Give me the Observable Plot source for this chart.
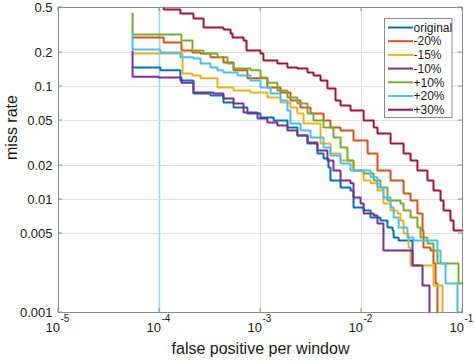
<!DOCTYPE html>
<html><head><meta charset="utf-8">
<script src="https://cdn.jsdelivr.net/npm/d3@7"></script>
<script src="https://cdn.jsdelivr.net/npm/@observablehq/plot@0.6"></script>
<style>body{margin:0;background:#fff;} #chart{width:474px;height:364px;}</style>
</head><body><div id="chart"></div>
<script>
const seriesNames = ["original","-20%","-15%","-10%","+10%","+20%","+30%"];
const seriesColors = ["#0072BD","#D95319","#EDB120","#7E2F8E","#77AC30","#4DBEEE","#A2142F"];
const xTicks = [1e-5,1e-4,1e-3,1e-2,1e-1];
const xTickExponents = ["-5","-4","-3","-2","-1"];
const yTicks = [0.001,0.005,0.01,0.02,0.05,0.1,0.2,0.5];
const yTickLabels = ["0.001","0.005","0.01","0.02","0.05","0.1","0.2","0.5"];
const xGrid = [1e-3,1e-2];
const yGrid = [0.005,0.01,0.02,0.05,0.1,0.2];
const markerFp = [1e-4];

// [false positive per window, miss rate]
const original = [[5.41e-5,0.147],[1.02e-4,0.139],[1.61e-4,0.113],[2.17e-4,0.0867],[3.20e-4,0.0832],[4.30e-4,0.0722],[5.41e-4,0.0652],[7.43e-4,0.0577],[1.00e-3,0.0532],[1.35e-3,0.0500],[1.85e-3,0.0434],[2.32e-3,0.0368],[2.92e-3,0.0313],[3.66e-3,0.0255],[4.21e-3,0.0231],[4.71e-3,0.0192],[4.93e-3,0.0147],[6.20e-3,0.0128],[7.78e-3,0.0120],[8.34e-3,0.00849],[1.05e-2,0.0080],[1.23e-2,0.00693],[1.54e-2,0.00652],[1.81e-2,0.00565],[2.03e-2,0.00532],[2.08e-2,0.00461],[2.33e-2,0.00434],[3.20e-2,0.00261],[3.66e-2,0.00261]];
const minus20 = [[5.41e-5,0.271],[1.10e-4,0.245],[1.65e-4,0.208],[2.12e-4,0.200],[2.55e-4,0.196],[3.20e-4,0.181],[4.30e-4,0.163],[5.41e-4,0.139],[7.43e-4,0.118],[1.17e-3,0.098],[1.58e-3,0.0885],[1.98e-3,0.0752],[2.49e-3,0.0652],[3.13e-3,0.0577],[4.21e-3,0.0500],[4.93e-3,0.0434],[6.20e-3,0.0408],[8.34e-3,0.0333],[1.15e-2,0.0255],[1.44e-2,0.0181],[1.94e-2,0.0147],[2.61e-2,0.0113],[3.06e-2,0.0098],[3.58e-2,0.00752],[4.02e-2,0.00532],[4.11e-2,0.00376],[4.82e-2,0.00354],[5.16e-2,0.00272],[5.41e-2,0.00181],[5.65e-2,0.001]];
const minus15 = [[5.41e-5,0.196],[1.69e-4,0.130],[2.12e-4,0.125],[2.55e-4,0.118],[3.75e-4,0.098],[5.41e-4,0.0922],[7.96e-4,0.0885],[1.17e-3,0.0800],[1.58e-3,0.0722],[1.98e-3,0.0652],[2.32e-3,0.0577],[2.67e-3,0.0471],[3.93e-3,0.0313],[4.93e-3,0.0255],[6.20e-3,0.0221],[8.34e-3,0.0181],[1.05e-2,0.0147],[1.23e-2,0.0139],[1.44e-2,0.0120],[1.65e-2,0.00922],[1.94e-2,0.0080],[2.27e-2,0.00752],[2.43e-2,0.00652],[2.61e-2,0.0050],[2.92e-2,0.00376],[3.06e-2,0.00261],[5.16e-2,0.00173],[6.34e-2,0.001]];
const minus10 = [[5.41e-5,0.204],[5.41e-5,0.122],[9.8e-5,0.120],[1.65e-4,0.108],[2.17e-4,0.0885],[3.43e-4,0.0867],[4.30e-4,0.0783],[5.41e-4,0.0708],[6.79e-4,0.0588],[9.34e-4,0.0521],[1.17e-3,0.0480],[1.47e-3,0.0452],[1.85e-3,0.0408],[2.32e-3,0.0368],[2.92e-3,0.0319],[3.66e-3,0.0272],[4.60e-3,0.0221],[5.28e-3,0.0181],[6.20e-3,0.0147],[7.78e-3,0.0139],[8.34e-3,0.0104],[9.78e-3,0.00922],[1.05e-2,0.00752],[1.32e-2,0.00722],[1.44e-2,0.00613],[1.65e-2,0.00354],[3.20e-2,0.00261],[4.02e-2,0.00173],[4.71e-2,0.001]];
const plus10 = [[5.41e-5,0.443],[5.41e-5,0.288],[1.65e-4,0.255],[2.12e-4,0.208],[2.73e-4,0.196],[3.75e-4,0.181],[4.71e-4,0.160],[5.41e-4,0.144],[7.96e-4,0.139],[1.00e-3,0.120],[1.17e-3,0.108],[1.47e-3,0.0922],[1.85e-3,0.0800],[2.32e-3,0.0708],[2.92e-3,0.0577],[3.35e-3,0.0500],[4.21e-3,0.0434],[5.28e-3,0.0354],[6.20e-3,0.0289],[7.27e-3,0.0221],[8.34e-3,0.0181],[1.05e-2,0.0170],[1.32e-2,0.0147],[1.54e-2,0.0128],[1.81e-2,0.0098],[2.43e-2,0.00922],[2.61e-2,0.0080],[3.06e-2,0.00693],[3.58e-2,0.00565],[3.84e-2,0.00461],[4.50e-2,0.00408],[5.16e-2,0.00354],[5.65e-2,0.00272],[9.13e-2,0.00181],[0.1,0.00181]];
const plus20 = [[5.41e-5,0.294],[5.41e-5,0.212],[1.02e-4,0.200],[1.61e-4,0.181],[2.17e-4,0.177],[2.55e-4,0.160],[3.20e-4,0.147],[3.75e-4,0.139],[4.30e-4,0.133],[5.92e-4,0.125],[7.96e-4,0.113],[1.00e-3,0.098],[1.26e-3,0.0867],[1.58e-3,0.0752],[1.85e-3,0.0613],[1.98e-3,0.0471],[2.49e-3,0.0408],[3.13e-3,0.0354],[4.21e-3,0.0289],[4.93e-3,0.0245],[6.20e-3,0.0208],[7.78e-3,0.0181],[1.23e-2,0.0157],[1.44e-2,0.0128],[1.65e-2,0.0104],[1.94e-2,0.00849],[2.08e-2,0.00693],[2.33e-2,0.00565],[2.85e-2,0.00461],[3.27e-2,0.00434],[5.65e-2,0.00354],[6.06e-2,0.00272],[6.79e-2,0.00181],[8.92e-2,0.001]];
const plus30 = [[1.10e-4,0.5],[1.10e-4,0.480],[1.61e-4,0.443],[2.17e-4,0.400],[2.73e-4,0.333],[4.30e-4,0.319],[5.05e-4,0.294],[5.28e-4,0.271],[6.79e-4,0.255],[7.27e-4,0.208],[1.00e-3,0.196],[1.07e-3,0.170],[1.47e-3,0.160],[1.85e-3,0.147],[2.32e-3,0.144],[2.92e-3,0.133],[3.35e-3,0.125],[3.93e-3,0.113],[4.60e-3,0.096],[5.53e-3,0.0752],[6.20e-3,0.0679],[7.78e-3,0.0613],[1.05e-2,0.0500],[1.32e-2,0.0434],[1.44e-2,0.0384],[1.94e-2,0.0313],[2.61e-2,0.0255],[3.06e-2,0.0221],[3.58e-2,0.0181],[4.50e-2,0.0147],[5.16e-2,0.0120],[6.06e-2,0.0098],[6.49e-2,0.0080],[7.60e-2,0.00652],[8.15e-2,0.00532],[0.1,0.00532]];

const seriesData = [original, minus20, minus15, minus10, plus10, plus20, plus30];
const rows = seriesData.flatMap((pts, i) => pts.map(([fp, miss]) => ({series: seriesNames[i], fp, miss})));

const textColor = "#1a1a1a";
const chart = Plot.plot({
  width: 474, height: 364,
  marginLeft: 58, marginRight: 12, marginTop: 7, marginBottom: 52,
  style: {fontFamily: "'Liberation Sans', Arial, sans-serif", background: "#fff", overflow: "visible"},
  x: {type: "log", domain: [1e-5, 1e-1], axis: null},
  y: {type: "log", domain: [0.001, 0.5], axis: null},
  color: {domain: seriesNames, range: seriesColors},
  marks: [
    Plot.ruleX(xGrid, {x: d => d, stroke: "#dfdfdf", strokeWidth: 1}),
    Plot.ruleY(yGrid, {y: d => d, stroke: "#dfdfdf", strokeWidth: 1}),
    Plot.ruleX(markerFp, {x: d => d, stroke: "#9ad4ef", strokeWidth: 1.6}),
    Plot.line(rows, {x: "fp", y: "miss", z: "series", stroke: "series", curve: "step-after", strokeWidth: 2, strokeLinejoin: "miter"}),
    Plot.frame({stroke: "#8a8a8a", strokeWidth: 1}),
    Plot.text(yTicks, {y: d => d, text: d => yTickLabels[yTicks.indexOf(d)], frameAnchor: "left", dx: -6, textAnchor: "end", fontSize: 13, fill: textColor}),
    Plot.text(xTicks, {x: d => d, text: () => "10", frameAnchor: "bottom", dy: 19, dx: 1.5, textAnchor: "end", fontSize: 13, fill: textColor}),
    Plot.text(xTicks, {x: d => d, text: d => xTickExponents[xTicks.indexOf(d)], frameAnchor: "bottom", dy: 9.5, dx: 2, textAnchor: "start", fontSize: 10, fill: textColor}),
    Plot.text(["false positive per window"], {frameAnchor: "bottom", dy: 41, fontSize: 16, fill: textColor}),
    Plot.text(["miss rate"], {frameAnchor: "left", dx: -47, rotate: -90, fontSize: 16, fill: textColor})
  ]
});
document.getElementById("chart").appendChild(chart);

// inward tick marks on all four sides, positioned through Plot's scales
const sx = chart.scale("x"), sy = chart.scale("y");
const fx = sx.apply ? v => sx.apply(v) : d3.scaleLog(sx.domain, sx.range);
const fy = sy.apply ? v => sy.apply(v) : d3.scaleLog(sy.domain, sy.range);
const svg = d3.select(chart);
const L = 58, R = 474 - 12, T = 7, B = 364 - 52, tk = 4;
const g = svg.append("g").attr("stroke", "#8a8a8a").attr("stroke-width", 1);
xTicks.forEach(v => {
  const x = fx(v);
  g.append("line").attr("x1", x).attr("x2", x).attr("y1", B).attr("y2", B - tk);
  g.append("line").attr("x1", x).attr("x2", x).attr("y1", T).attr("y2", T + tk);
});
yTicks.forEach(v => {
  const y = fy(v);
  g.append("line").attr("x1", L).attr("x2", L + tk).attr("y1", y).attr("y2", y);
  g.append("line").attr("x1", R).attr("x2", R - tk).attr("y1", y).attr("y2", y);
});

// legend
const lg = svg.append("g").attr("transform", "translate(384,18)").attr("text-anchor", "start");
lg.append("rect").attr("x", 0.5).attr("y", 0.5).attr("width", 67.5).attr("height", 99).attr("fill", "#fff").attr("stroke", "#8a8a8a");
seriesNames.forEach((name, i) => {
  const cy = 9.5 + i * 13.7;
  lg.append("line").attr("x1", 4).attr("x2", 29).attr("y1", cy).attr("y2", cy).attr("stroke", seriesColors[i]).attr("stroke-width", 2);
  lg.append("text").attr("x", 29.5).attr("y", cy).attr("dy", "0.35em").attr("text-anchor", "start").attr("font-size", 12).attr("fill", textColor).text(name);
});
</script>
</body></html>
